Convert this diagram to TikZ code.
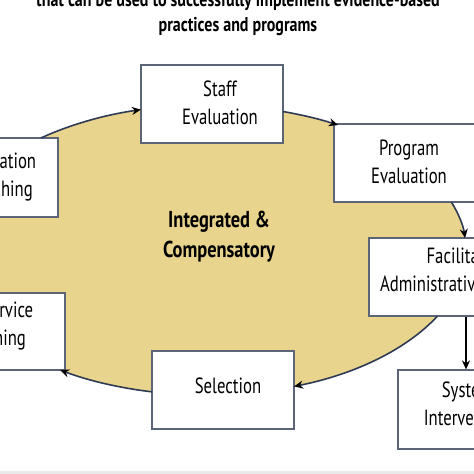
\documentclass[tikz,border=0pt]{standalone}
\usepackage{fontspec}
\setmainfont[FakeStretch=0.76]{PT Sans}
\newfontfamily\bfam[FakeStretch=0.8]{PT Sans Bold}
\usetikzlibrary{arrows.meta,calc}
\definecolor{tan}{HTML}{E8D48C}
\definecolor{boxc}{HTML}{5B6577}
\definecolor{arcc}{HTML}{2F3B55}
\definecolor{band}{HTML}{E9E9E9}
\tikzset{
  box/.style={draw=boxc, line width=1.2pt, fill=white, inner sep=0pt},
  lbl/.style={align=center, inner sep=0pt, font=\fontsize{22}{28}\selectfont},
  cyc/.style={draw=arcc, line width=1.6pt, -{Stealth[length=9pt,width=8pt,color=black]}},
  straight/.style={draw=black, line width=1.4pt, -{Stealth[length=9pt,width=8pt]}}
}
\begin{document}
\begin{tikzpicture}[x=1pt,y=-1pt]
\useasboundingbox (0,0) rectangle (474,474);
\clip (0,0) rectangle (474,474);
\fill[white] (0,0) rectangle (474,474);
\fill[band] (0,471) rectangle (474,474);
% title
\node[anchor=base, align=center, font=\bfam\fontsize{20}{25}\selectfont] (title) at (238,31)
  {that can be used to successfully implement evidence-based\\practices and programs};
% ellipse
\coordinate (E) at (206,250);
\fill[tan] (E) ellipse [x radius=260, y radius=145];
% boxes
\node[box, minimum width=142pt, minimum height=78pt] (staff) at (212,104) {};
\node[lbl] (staffT) at ($(staff)+(8,-1)$) {Staff\\Evaluation};
\node[box, minimum width=150pt, minimum height=78pt] (prog) at (409,163) {};
\node[lbl] (progT) at ($(prog)+(0,-1)$) {Program\\Evaluation};
\node[box, minimum width=194pt, minimum height=78pt] (fac) at (466,277) {};
\node[lbl] (facT) at ($(fac)+(0,-5)$) {Facilitative\\Administrative Supports};
\node[box, minimum width=136pt, minimum height=79pt] (sys) at (466,409.5) {};
\node[lbl] (sysT) at ($(sys)+(5,-6)$) {Systems\\Interventions};
\node[box, minimum width=142pt, minimum height=78pt] (sel) at (223,390) {};
\node[lbl] (selT) at ($(sel)+(5,-4)$) {Selection};
\node[box, minimum width=138pt, minimum height=77pt] (pre) at (-4,331.5) {};
\node[lbl] (preT) at ($(pre)+(1,-5)$) {Preservice\\Training};
\node[box, minimum width=134pt, minimum height=79pt] (cons) at (-9,177.5) {};
\node[lbl] (consT) at ($(cons)+(0,-1)$) {Consultation\\\& Coaching};
% cycle connectors along the ellipse
\draw[cyc] ($(E)+(230.6:260 and 145)$) arc [start angle=230.6, end angle=255.5, x radius=260, y radius=145];
\draw[cyc] ($(E)+(287.2:260 and 145)$) arc [start angle=287.2, end angle=300.5, x radius=260, y radius=145];
\draw[cyc] ($(E)+(340.7:260 and 145)$) arc [start angle=340.7, end angle=355.25, x radius=260, y radius=145];
\draw[cyc] ($(E)+(27.1:260 and 145)$) arc [start angle=27.1, end angle=70.2, x radius=260, y radius=145];
\draw[cyc] ($(E)+(102:260 and 145)$) arc [start angle=102, end angle=124.1, x radius=260, y radius=145];
\draw[straight] (fac.south) -- (sys.north);
\node[font=\bfam\fontsize{23}{30}\selectfont, align=center] (mid) at (219,237) {Integrated \&\\Compensatory};
\end{tikzpicture}
\end{document}
